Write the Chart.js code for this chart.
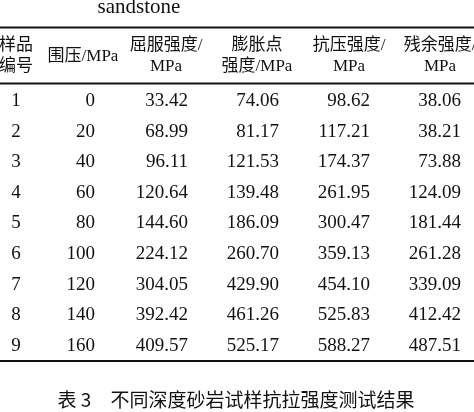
<!DOCTYPE html>
<html><head><meta charset="utf-8">
<script src="https://cdn.jsdelivr.net/npm/chart.js@4"></script>
<style>html,body{margin:0;padding:0;background:#fff}#w{width:474px;height:412px}</style>
</head><body><div id="w"><canvas id="c"></canvas></div>
<script>
const titleTop = "sandstone";
const caption = "表 3　不同深度砂岩试样抗拉强度测试结果";
const headers1 = ["样品", "围压/MPa", "屈服强度/", "膨胀点", "抗压强度/", "残余强度/"];
const headers2 = ["编号", "", "MPa", "强度/MPa", "MPa", "MPa"];
const sampleNo = ["1","2","3","4","5","6","7","8","9"];
const confining = ["0","20","40","60","80","100","120","140","160"];
const yieldStrength = ["33.42","68.99","96.11","120.64","144.60","224.12","304.05","392.42","409.57"];
const dilatancy = ["74.06","81.17","121.53","139.48","186.09","260.70","429.90","461.26","525.17"];
const compressive = ["98.62","117.21","174.37","261.95","300.47","359.13","454.10","525.83","588.27"];
const residual = ["38.06","38.21","73.88","124.09","181.44","261.28","339.09","412.42","487.51"];

// layout (pixel-space positions on a 0..474 x 0..412 scale)
const colCenter = [16, 83, 166, 257, 349, 440];
const colRight = [null, 95, 188, 370 - 91, 370, 461];
const rowY0 = 101, rowStep = 30.6;

const tablePlugin = {
  id: 'table',
  afterDraw(chart) {
    const ctx = chart.ctx, xs = chart.scales.x, ys = chart.scales.y;
    const X = v => xs.getPixelForValue(v), Y = v => ys.getPixelForValue(v);
    ctx.save();
    ctx.fillStyle = '#111'; ctx.strokeStyle = '#111';
    ctx.textBaseline = 'middle';
    ctx.font = '21px "Liberation Serif", "Noto Sans CJK SC"';
    ctx.textAlign = 'center';
    ctx.fillText(titleTop, X(139), Y(7));
    const line = (y, w) => { ctx.lineWidth = w; ctx.beginPath(); ctx.moveTo(X(0), Y(y)); ctx.lineTo(X(474), Y(y)); ctx.stroke(); };
    line(27.5, 2.2); line(83.5, 1.8); line(361, 2.2);
    ctx.font = '17px "Liberation Serif", "Noto Sans CJK SC"';
    headers1.forEach((h, i) => {
      if (headers2[i] === "") { ctx.fillText(h, X(colCenter[i]), Y(57)); }
      else { ctx.fillText(h, X(colCenter[i]), Y(46)); ctx.fillText(headers2[i], X(colCenter[i]), Y(67)); }
    });
    ctx.font = '19px "Liberation Serif"';
    const cols = [sampleNo, confining, yieldStrength, dilatancy, compressive, residual];
    cols.forEach((col, i) => {
      col.forEach((v, r) => {
        const y = Y(rowY0 + r * rowStep);
        if (i === 0) { ctx.textAlign = 'center'; ctx.fillText(v, X(colCenter[0]), y); }
        else { ctx.textAlign = 'right'; ctx.fillText(v, X(colRight[i]), y); }
      });
    });
    ctx.textAlign = 'center';
    ctx.font = '19px "Noto Sans CJK SC", "Liberation Serif"';
    ctx.fillText(caption, X(236), Y(400));
    ctx.restore();
  }
};

new Chart(document.getElementById('c'), {
  type: 'scatter',
  data: { datasets: [{ data: [], pointRadius: 0 }] },
  options: {
    responsive: true, maintainAspectRatio: false, animation: false,
    layout: { padding: 0 },
    plugins: { legend: { display: false }, tooltip: { enabled: false } },
    scales: {
      x: { type: 'linear', min: 0, max: 474, display: false },
      y: { type: 'linear', min: 0, max: 412, reverse: true, display: false }
    }
  },
  plugins: [tablePlugin]
});
</script></body></html>
